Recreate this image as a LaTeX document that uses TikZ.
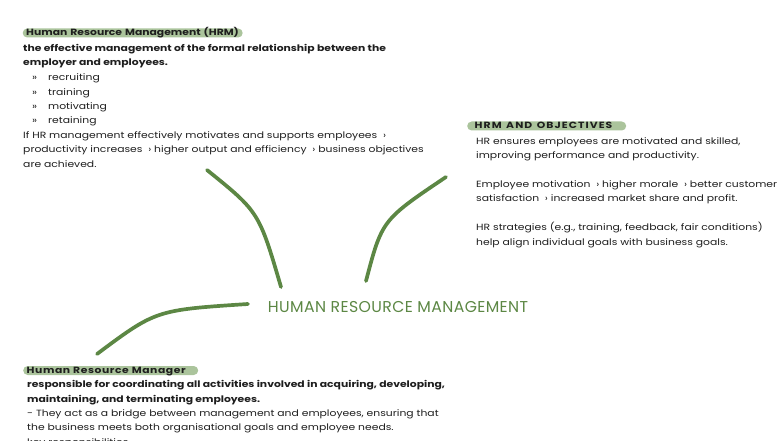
\documentclass[tikz,border=0pt]{standalone}
\usepackage{fontspec}
\setmainfont{Poppins}
\usetikzlibrary{positioning}
\definecolor{hrmsage}{RGB}{171,196,156}
\definecolor{hrmgreen}{RGB}{92,135,68}
\definecolor{hrmink}{RGB}{30,30,30}

\begin{document}
\begin{tikzpicture}[
  x=1pt, y=-1pt,
  pill/.style={fill=hrmsage, rounded corners=4.5pt, inner xsep=3.5pt, inner ysep=0.5pt,
    text height=6.5pt, text depth=1.5pt, anchor=west, align=left, text=hrmink,
    font=\fontsize{9}{10}\selectfont\bfseries\addfontfeatures{FakeStretch=1.2}},
  body/.style={anchor=base west, inner sep=0pt, align=left, text=hrmink,
    font=\fontsize{9}{14.4}\selectfont\addfontfeatures{FakeStretch=1.2}},
  strong/.style={body, font=\fontsize{9}{14.4}\selectfont\bfseries\addfontfeatures{FakeStretch=1.2}},
  branch/.style={draw=hrmgreen, line width=3.7pt, line cap=round}
]
\useasboundingbox (0,0) rectangle (784,441);

% centre
\node[text=hrmgreen, font=\fontsize{15.7}{18}\selectfont\addfontfeatures{LetterSpace=2.5}] (hrm) at (398,307) {HUMAN RESOURCE MANAGEMENT};

% top left block (nodes sit on the baseline of their last line)
\node[pill, text width=213pt] (hrmTitle) at (22.5,33) {\mbox{Human Resource Management (HRM)}};
\node[strong] (hrmDef) at (23,66) {the effective management of the formal relationship between the\\employer and employees.};
\node[body] (hrmList) at (32,124) {%
  »\hspace{11pt}recruiting\\
  »\hspace{11pt}training\\
  »\hspace{11pt}motivating\\
  »\hspace{11pt}retaining};
\node[body] (hrmChain) at (23,167) {%
  If HR management effectively motivates and supports employees \ ›\\
  productivity increases \ › higher output and efficiency \ › business objectives\\
  are achieved.};

% right block
\node[pill, text width=152pt, font=\fontsize{9}{10}\selectfont\bfseries\addfontfeatures{FakeStretch=1.2,LetterSpace=12}] (objTitle) at (467,126) {\mbox{\hspace{4pt}HRM\hspace{4.5pt}AND\hspace{4.5pt}OBJECTIVES}};
\node[body] (objText) at (476,245) {%
  HR ensures employees are motivated and skilled,\\
  improving performance and productivity.\\[14.4pt]
  Employee motivation \ › higher morale \ › better customer\\
  satisfaction \ › increased market share and profit.\\[14.4pt]
  HR strategies (e.g., training, feedback, fair conditions)\\
  help align individual goals with business goals.};

% bottom block
\node[pill, text width=168pt, font=\fontsize{9}{10}\selectfont\bfseries\addfontfeatures{FakeStretch=1.2,LetterSpace=6.3}] (mgrTitle) at (23,370.5) {\mbox{Human Resource Manager}};
\node[strong] (mgrDef) at (27,402) {responsible for coordinating all activities involved in acquiring, developing,\\maintaining, and terminating employees.};
\node[body] (mgrText) at (27,445) {%
  - They act as a bridge between management and employees, ensuring that\\
  the business meets both organisational goals and employee needs.\\
  key responsibilities};

% branches
\coordinate (toDef) at (207,170);
\coordinate (fromDefRoot) at (281,287);
\coordinate (toObj) at (446,177);
\coordinate (fromObjRoot) at (366,281);
\coordinate (fromMgrRoot) at (248,304);
\coordinate (toMgr) at (97,354);
\draw[branch] (fromDefRoot) .. controls (259,212) .. (toDef);
\draw[branch] (fromObjRoot) .. controls (382,220) .. (toObj);
\draw[branch] (fromMgrRoot) .. controls (156,310) .. (toMgr);
\end{tikzpicture}
\end{document}
